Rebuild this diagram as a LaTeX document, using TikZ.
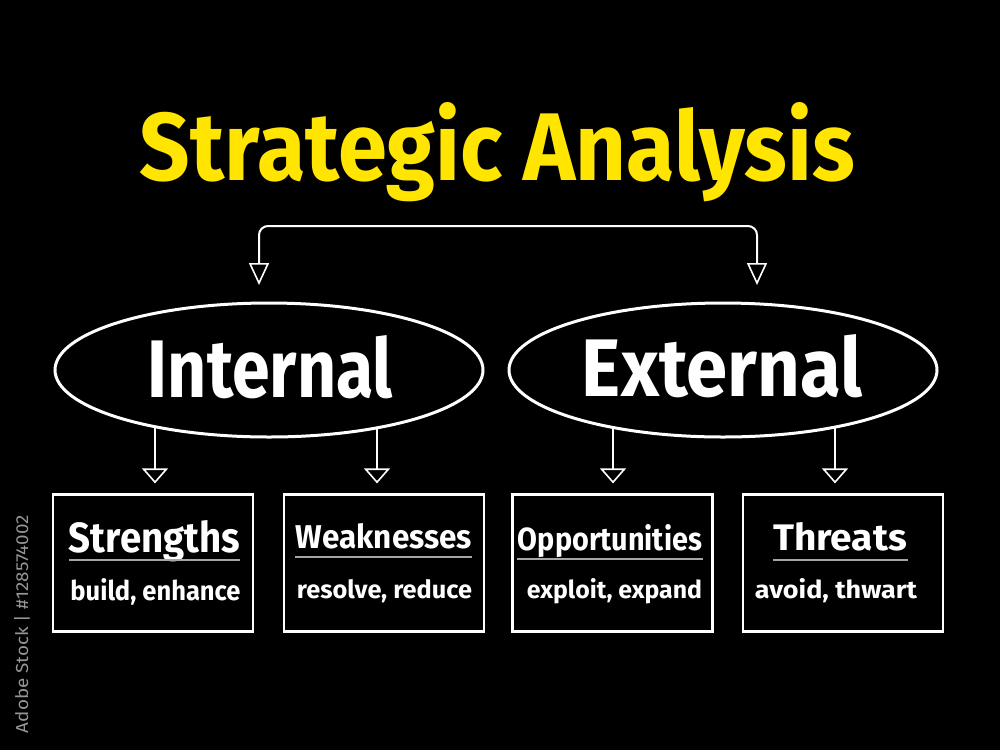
\documentclass[tikz,border=0pt]{standalone}
\usepackage{fontspec}
\setmainfont{Fira Sans}
\usetikzlibrary{arrows.meta,shapes.geometric}
\definecolor{ttl}{RGB}{255,229,0}
\definecolor{ulgray}{RGB}{165,165,165}
\definecolor{wmgray}{RGB}{150,150,150}
\tikzset{
  txt/.style={anchor=base, inner sep=0pt, text=white},
  oval/.style={ellipse, draw=white, line width=3pt, minimum width=428pt, minimum height=134pt, inner sep=0pt},
  card/.style={rectangle, draw=white, line width=2.2pt, minimum width=200pt, minimum height=137pt, inner sep=0pt},
  ul/.style={draw=ulgray, line width=1.6pt},
  downarr/.style={draw=white, line width=1.8pt, -{Triangle[open, length=15pt, width=26pt, line width=1.6pt]}},
  toparr/.style={draw=white, line width=2pt, rounded corners=9pt,
    {Triangle[open, length=22pt, width=20pt, line width=1.6pt]}-{Triangle[open, length=22pt, width=20pt, line width=1.6pt]}}
}
\newcommand{\fitt}[3]{\resizebox{#1pt}{#2pt}{#3}}
\begin{document}
\begin{tikzpicture}[x=1pt,y=-1pt]
  \fill[black] (0,0) rectangle (1000,750);
  \useasboundingbox (0,0) rectangle (1000,750);

  % title
  \node[txt, text=ttl] (title) at (497.5,180) {\fitt{715}{78}{\bfseries Strategic Analysis}};

  % ellipses
  \node[oval] (int) at (269,370) {};
  \node[oval] (ext) at (723,370) {};
  \node[txt] (inttxt) at (270.5,397) {\fitt{245}{62}{\bfseries Internal}};
  \node[txt] (exttxt) at (722,396) {\fitt{280}{62}{\bfseries External}};

  % top connector
  \coordinate (tl) at (259,285);
  \coordinate (tr) at (757,285);
  \coordinate (tlc) at (259,226);
  \coordinate (trc) at (757,226);
  \draw[toparr] (tl) -- (tlc) -- (trc) -- (tr);

  % boxes
  \node[card] (s) at (153,563) {};
  \node[card] (w) at (384,563) {};
  \node[card] (o) at (612.5,563) {};
  \node[card] (t) at (843,563) {};

  % box texts
  \node[txt] (stit) at (154.5,552) {\fitt{171}{32}{\bfseries Strengths}};
  \draw[ul] (69,560) -- (240,560);
  \node[txt] (ssub) at (155.5,600) {\fitt{170}{22}{\bfseries build, enhance}};

  \node[txt] (wtit) at (384,548) {\fitt{176}{25}{\bfseries Weaknesses}};
  \draw[ul] (295,557) -- (472,557);
  \node[txt] (wsub) at (384.5,598) {\fitt{175}{19}{\bfseries resolve, reduce}};

  \node[txt] (otit) at (610,550) {\fitt{184}{26}{\bfseries Opportunities}};
  \draw[ul] (517,559) -- (703,559);
  \node[txt] (osub) at (614.5,598) {\fitt{175}{20}{\bfseries exploit, expand}};

  \node[txt] (ttit) at (840,550) {\fitt{134}{28}{\bfseries Threats}};
  \draw[ul] (773,560) -- (908,560);
  \node[txt] (tsub) at (836,598) {\fitt{162}{20}{\bfseries avoid, thwart}};

  % down arrows
  \coordinate (a1) at (155,427);
  \coordinate (a2) at (377,428);
  \coordinate (a3) at (613,427.5);
  \coordinate (a4) at (835,427);
  \draw[downarr, shorten >=10pt] (a1) -- (a1 |- s.north);
  \draw[downarr, shorten >=10pt] (a2) -- (a2 |- w.north);
  \draw[downarr, shorten >=10pt] (a3) -- (a3 |- o.north);
  \draw[downarr, shorten >=10pt] (a4) -- (a4 |- t.north);

  % side watermark text
  \node[inner sep=0pt, text=wmgray, rotate=90] (wm) at (22,624) {\fitt{218}{14}{Adobe Stock | \#128574002}};
\end{tikzpicture}
\end{document}
